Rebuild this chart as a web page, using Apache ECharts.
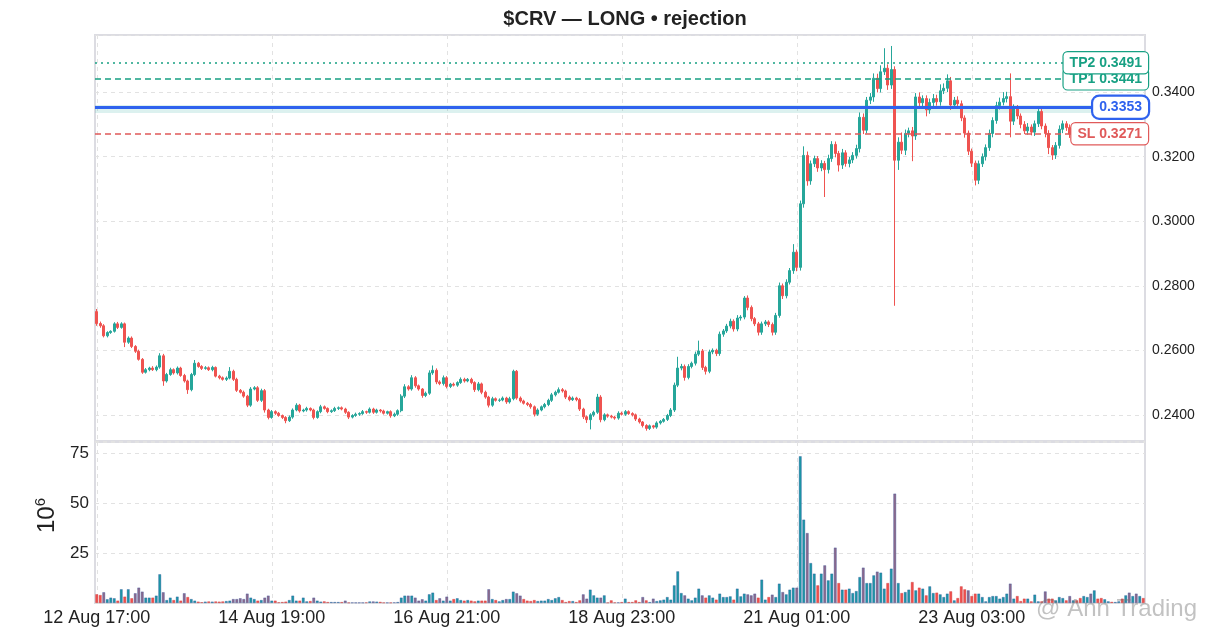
<!DOCTYPE html>
<html><head><meta charset="utf-8">
<script src="https://cdn.jsdelivr.net/npm/echarts@6/dist/echarts.min.js"></script>
<style>html,body{margin:0;padding:0;background:#fff}#c{width:1205px;height:638px}</style>
</head><body><div id="c"></div><script>
// ---- data ----
const tickLabels = ['12 Aug 17:00','14 Aug 19:00','16 Aug 21:00','18 Aug 23:00','21 Aug 01:00','23 Aug 03:00'];
const firstOpen = 0.2720;
const closes = [
0.2683,0.2676,0.2645,0.2655,0.2659,0.2682,0.2671,0.2682,0.2625,0.2638,
0.2612,0.2597,0.2572,0.2532,0.2540,0.2545,0.2540,0.2548,0.2583,0.2505,
0.2525,0.2540,0.2530,0.2545,0.2522,0.2505,0.2478,0.2525,0.2560,0.2550,
0.2544,0.2546,0.2540,0.2547,0.2520,0.2515,0.2510,0.2514,0.2535,0.2510,
0.2476,0.2470,0.2458,0.2430,0.2480,0.2484,0.2445,0.2475,0.2415,0.2392,
0.2410,0.2405,0.2398,0.2392,0.2382,0.2393,0.2415,0.2430,0.2412,0.2415,
0.2420,0.2415,0.2392,0.2410,0.2425,0.2420,0.2410,0.2413,0.2420,0.2422,
0.2418,0.2408,0.2393,0.2398,0.2402,0.2404,0.2410,0.2408,0.2418,0.2408,
0.2415,0.2412,0.2405,0.2410,0.2397,0.2402,0.2413,0.2458,0.2487,0.2480,
0.2515,0.2490,0.2480,0.2460,0.2467,0.2530,0.2538,0.2502,0.2497,0.2515,
0.2488,0.2495,0.2492,0.2500,0.2510,0.2505,0.2510,0.2500,0.2478,0.2496,
0.2470,0.2455,0.2430,0.2450,0.2445,0.2446,0.2452,0.2440,0.2450,0.2535,
0.2452,0.2443,0.2436,0.2432,0.2425,0.2402,0.2415,0.2425,0.2432,0.2445,
0.2462,0.2470,0.2478,0.2474,0.2455,0.2447,0.2452,0.2447,0.2418,0.2394,
0.2385,0.2400,0.2408,0.2455,0.2385,0.2400,0.2396,0.2393,0.2390,0.2405,
0.2402,0.2410,0.2404,0.2400,0.2387,0.2378,0.2367,0.2358,0.2366,0.2362,
0.2375,0.2380,0.2386,0.2398,0.2415,0.2492,0.2545,0.2550,0.2516,0.2550,
0.2560,0.2588,0.2598,0.2547,0.2535,0.2595,0.2600,0.2590,0.2650,0.2660,
0.2675,0.2690,0.2666,0.2700,0.2703,0.2762,0.2733,0.2698,0.2682,0.2656,
0.2682,0.2688,0.2680,0.2656,0.2708,0.2800,0.2769,0.2811,0.2847,0.2904,
0.2857,0.3054,0.3204,0.3125,0.3178,0.3194,0.3165,0.3179,0.3160,0.3194,
0.3238,0.3210,0.3174,0.3212,0.3179,0.3190,0.3204,0.3225,0.3322,0.3282,
0.3375,0.3385,0.3443,0.3411,0.3463,0.3474,0.3422,0.3470,0.3189,0.3245,
0.3220,0.3272,0.3280,0.3264,0.3385,0.3367,0.3380,0.3345,0.3368,0.3380,
0.3370,0.3404,0.3412,0.3435,0.3360,0.3375,0.3364,0.3320,0.3273,0.3217,
0.3180,0.3127,0.3178,0.3200,0.3228,0.3272,0.3312,0.3358,0.3369,0.3380,
0.3386,0.3310,0.3350,0.3326,0.3300,0.3280,0.3292,0.3276,0.3302,0.3340,
0.3295,0.3272,0.3228,0.3205,0.3235,0.3285,0.3302,0.3290,0.3270,0.3285,
0.3265,0.3255,0.3275,0.3295,0.3280,0.3290,0.3270,0.3262,0.3272,0.3280,
0.3268,0.3276,0.3285,0.3275,0.3282,0.3270,0.3278,0.3268,0.3280,0.3272
];
// upper / lower wick lengths, in units of 0.0001
const wickUp = [
8,6,5,4,3,5,6,5,4,5, 5,4,5,4,5,4,6,5,8,6, 5,6,4,5,4,5,4,5,10,4, 4,5,4,5,3,4,4,5,13,5,
5,4,5,4,6,5,5,6,5,4, 5,4,4,3,4,5,5,6,4,4, 5,3,4,4,6,4,3,4,5,4, 4,4,3,4,5,4,5,3,5,4,
4,3,4,3,4,5,4,6,8,5, 8,5,4,3,5,8,15,6,5,7, 5,4,5,4,6,5,4,5,4,6, 4,5,4,6,4,5,5,4,6,5,
4,5,4,4,5,4,5,4,5,5, 6,5,7,5,4,5,5,4,5,4, 4,5,5,10,6,5,4,4,4,6, 5,5,4,4,4,4,3,4,4,3,
5,4,4,5,6,8,35,8,6,7, 5,8,32,6,5,7,6,5,8,6, 7,8,6,9,6,6,8,6,5,6, 7,6,5,6,8,10,7,9,8,25,
8,10,28,12,10,9,8,10,8,12, 10,9,8,12,8,9,10,12,15,12, 10,12,15,14,20,62,12,73,10,15, 30,12,10,12,12,14,10,10,12,14,
12,20,15,20,12,10,12,10,8,8, 8,8,10,10,10,12,10,12,14,20, 15,72,12,10,8,10,12,8,10,12, 10,8,10,8,10,12,10,8,10,8,
10,8,10,12,8,10,8,10,8,8, 10,8,10,8,8,10,8,8,10,8
];
const wickDown = [
7,6,5,5,4,4,5,4,15,5, 5,5,4,5,4,5,4,5,5,15, 5,4,5,5,4,5,13,5,5,4, 5,4,4,5,4,5,4,5,4,5,
5,4,5,6,5,4,5,5,8,6, 4,5,4,5,8,4,5,4,5,4, 5,4,6,4,5,4,5,4,4,5, 4,5,6,4,4,5,4,5,4,5,
4,5,4,4,6,4,5,5,6,5, 5,6,5,7,5,5,6,7,5,6, 6,5,4,5,4,5,4,5,7,5, 6,5,7,5,4,5,4,6,5,5,
5,5,4,5,6,7,5,4,5,5, 5,5,4,5,6,5,4,5,6,7, 10,30,6,5,8,5,5,4,5,5, 4,5,4,5,6,5,6,7,5,5,
5,5,4,5,5,6,6,7,10,6, 6,7,6,8,10,6,7,8,7,8, 6,7,8,7,8,7,9,8,7,10, 8,7,8,10,8,7,10,8,7,10,
12,10,12,15,12,10,12,10,85,12, 10,12,20,12,10,12,10,10,12,12, 10,12,15,12,12,10,15,12,451,30, 12,15,12,78,12,15,12,20,12,14,
12,12,10,12,15,12,12,10,14,12, 12,16,12,10,12,10,12,10,12,10, 12,50,12,10,12,10,12,10,12,10, 10,12,20,15,12,10,12,10,12,10,
12,10,12,10,12,10,12,10,12,10, 10,12,10,12,10,12,10,12,10,12
];
// volume, in millions
const volumes = [
4.4,4.0,5.4,1.9,2.7,2.4,1.2,6.9,3.2,6.9, 2.4,4.9,7.7,5.7,2.7,2.7,2.7,3.7,14.4,5.4,
1.5,2.7,1.5,3.2,1.2,4.9,3.0,2.0,1.2,0.7, 0.4,0.7,0.8,0.7,0.8,0.7,0.8,1.0,1.2,2.0,
2.0,2.4,2.0,4.7,2.7,2.0,1.2,1.5,2.7,3.7, 1.2,1.2,0.35,0.5,0.7,1.5,3.7,1.2,1.2,2.7,
0.85,1.0,2.7,1.2,0.7,0.85,0.5,0.5,0.5,0.5, 0.5,1.2,0.2,0.2,0.2,0.2,0.2,0.3,0.8,0.8,
0.7,0.6,0.2,0.2,0.2,0.3,0.5,2.7,3.7,3.7, 3.7,2.7,1.2,1.9,1.2,4.4,5.2,1.5,2.4,1.2,
3.2,1.2,2.0,2.4,1.5,1.2,1.5,1.2,0.85,1.2, 1.2,1.2,6.9,2.0,1.5,0.85,1.5,2.0,2.0,5.7,
4.9,3.7,2.0,1.2,1.0,1.5,1.0,1.2,1.2,2.0, 1.5,2.4,3.0,1.5,0.5,1.0,1.0,0.5,1.35,4.35,
2.2,6.7,3.85,2.7,2.7,3.85,0.2,1.35,0.3,0.3, 0.5,2.2,0.5,0.5,1.35,0.5,3.0,1.35,0.5,2.2,
1.0,1.35,1.7,3.0,1.7,8.85,15.85,5.0,3.85,2.2, 1.35,2.7,7.2,3.85,2.7,3.85,2.7,1.7,4.7,3.0,
3.0,3.35,1.7,7.2,3.35,4.7,4.35,3.85,4.7,2.7, 11.7,1.7,3.0,4.2,3.0,9.7,5.5,4.35,6.7,7.7,
7.7,73.4,41.7,35.0,20.0,14.7,8.85,14.7,18.85,11.35, 14.7,27.7,10.0,6.7,6.7,7.2,5.0,6.0,13.0,17.7,
10.0,10.0,13.85,15.7,15.2,7.2,10.0,17.2,54.7,10.0, 5.0,5.5,6.7,10.5,6.35,7.7,7.2,3.85,8.35,5.0,
5.2,4.35,3.0,4.7,5.85,1.35,2.5,8.35,6.85,6.35, 3.5,4.7,4.7,3.0,0.85,3.0,3.5,3.5,2.2,3.0,
4.7,9.7,2.2,3.5,1.0,2.2,2.2,0.85,4.2,0.85, 0.85,5.8,2.2,2.2,1.35,3.0,2.5,1.35,3.5,1.35,
1.35,2.5,3.5,3.0,4.7,6.35,2.2,2.5,1.9,0.85, 0.6,0.5,0.85,2.2,3.85,5.2,3.5,4.7,3.5,2.5
];
const levelTP2 = 0.3491;
const levelTP1 = 0.3441;
const levelEntry = 0.3353;
const levelSL = 0.3271;
const entryZone = [0.3335, 0.3360];
const priceMin = 0.2319, priceMax = 0.3577;
const volMax = 80.5;

// ---- build ----
const MONTHS = ['Jan','Feb','Mar','Apr','May','Jun','Jul','Aug','Sep','Oct','Nov','Dec'];
const t0 = Date.UTC(2025, 7, 12, 17);
const categories = closes.map((_, i) => {
  const d = new Date(t0 + i * 3600000);
  return d.getUTCDate() + ' ' + MONTHS[d.getUTCMonth()] + ' ' + String(d.getUTCHours()).padStart(2, '0') + ':00';
});
const candleData = closes.map((c, i) => {
  const o = i === 0 ? firstOpen : closes[i - 1];
  const hi = Math.max(o, c) + wickUp[i] * 1e-4;
  const lo = Math.min(o, c) - wickDown[i] * 1e-4;
  return [o, c, +lo.toFixed(4), +hi.toFixed(4)];
});
const UP = '#26a69a', DOWN = '#ef5350', VUP = '#1c97a6', VDOWN = '#f0504e', VPURP = '#8c6a8c';
const volData = volumes.map((v, i) => {
  const up = candleData[i][1] >= candleData[i][0];
  let s = 0, n = 0;
  for (let k = Math.max(0, i - 20); k < i; k++) { s += volumes[k]; n++; }
  const avg = n ? s / n : v;
  const col = up ? VUP : (v > avg ? VPURP : VDOWN);
  return { value: v, itemStyle: { color: col, borderColor: up || v > avg ? 'rgba(40,70,150,0.55)' : 'rgba(200,50,50,0.6)', borderWidth: 0.6 } };
});

const FONT = '"Liberation Sans", Arial, sans-serif';
const gridLine = { show: true, lineStyle: { color: '#e2e2e2', type: [4, 4], width: 1 } };
const lbl = (txt, col, bw) => ({
  show: true, formatter: txt, position: 'insideEnd', distance: -3,
  color: col, fontSize: 14, fontWeight: 'bold', fontFamily: FONT,
  backgroundColor: '#ffffff', borderColor: col, borderWidth: bw, borderRadius: 4,
  padding: [4, 6, 3, 6]
});

const chart = echarts.init(document.getElementById('c'), null, { renderer: 'canvas' });
chart.setOption({
  animation: false,
  backgroundColor: '#ffffff',
  textStyle: { fontFamily: FONT },
  title: {
    text: '$CRV — LONG • rejection', left: 620, top: 4, textAlign: 'center',
    textStyle: { fontSize: 20, fontWeight: 'bold', color: '#222', fontFamily: FONT }
  },
  grid: [
    { left: 95, right: 60, top: 35, height: 406, show: true, borderColor: '#dcdce2', borderWidth: 2, backgroundColor: 'transparent' },
    { left: 95, right: 60, top: 442, height: 161, show: true, borderColor: '#dcdce2', borderWidth: 2, backgroundColor: 'transparent' }
  ],
  xAxis: [
    { type: 'category', gridIndex: 0, data: categories, boundaryGap: true,
      axisLine: { show: false }, axisTick: { show: false, alignWithLabel: true }, axisLabel: { show: false, interval: 49 },
      splitLine: Object.assign({ interval: 49, alignWithLabel: true }, gridLine) },
    { type: 'category', gridIndex: 1, data: categories, boundaryGap: true,
      axisLine: { show: false }, axisTick: { show: false, alignWithLabel: true },
      axisLabel: { show: true, interval: 49, fontSize: 18, color: '#222', margin: 6, fontFamily: FONT },
      splitLine: Object.assign({ interval: 49, alignWithLabel: true }, gridLine) }
  ],
  yAxis: [
    { type: 'value', gridIndex: 0, position: 'right', min: priceMin, max: priceMax, splitNumber: 6, scale: true,
      axisLine: { show: false }, axisTick: { show: false },
      axisLabel: { fontSize: 14, color: '#222', margin: 7, showMinLabel: false, showMaxLabel: false,
        formatter: v => v.toFixed(4), fontFamily: FONT },
      splitLine: gridLine },
    { type: 'value', gridIndex: 1, position: 'left', min: 0, max: volMax, interval: 25,
      axisLine: { show: false }, axisTick: { show: false },
      axisLabel: { fontSize: 17, color: '#222', margin: 6, showMinLabel: false, showMaxLabel: false, fontFamily: FONT },
      splitLine: gridLine,
      name: '10{s|6}', nameLocation: 'middle', nameRotate: 90, nameGap: 25,
      nameTextStyle: { fontSize: 24, color: '#222', fontFamily: FONT, padding: [0, 0, 0, 14],
        rich: { s: { fontSize: 15, color: '#222', verticalAlign: 'top', padding: [0, 0, 12, 0], fontFamily: FONT } } } }
  ],
  series: [
    { type: 'candlestick', name: 'CRV', xAxisIndex: 0, yAxisIndex: 0, data: candleData, barWidth: 2.6,
      itemStyle: { color: UP, color0: DOWN, borderColor: UP, borderColor0: DOWN, borderWidth: 1 },
      markArea: { silent: true, itemStyle: { color: 'rgba(38,166,154,0.16)' },
        data: [[{ yAxis: entryZone[0] }, { yAxis: entryZone[1] }]] },
      markLine: { silent: true, symbol: ['none', 'none'], animation: false, precision: 4,
        data: [
          { yAxis: levelSL, lineStyle: { color: '#e05a5a', type: [6, 4], width: 1.6 }, label: lbl('SL ' + levelSL.toFixed(4), '#e05a5a', 1.2) },
          { yAxis: levelTP1, lineStyle: { color: '#17a083', type: [6, 4], width: 1.6 }, label: lbl('TP1 ' + levelTP1.toFixed(4), '#17a083', 1.2) },
          { yAxis: levelTP2, lineStyle: { color: '#17a083', type: [2, 4], width: 1.6 }, label: lbl('TP2 ' + levelTP2.toFixed(4), '#17a083', 1.2) },
          { yAxis: levelEntry, lineStyle: { color: '#2f62ee', type: 'solid', width: 3 }, label: Object.assign(lbl(levelEntry.toFixed(4), '#2f62ee', 2.2), { padding: [4, 6, 3, 6], borderRadius: 6 }) }
        ] } },
    { type: 'bar', name: 'Volume', xAxisIndex: 1, yAxisIndex: 1, data: volData, barWidth: '82%' }
  ],
  graphic: [
    { type: 'text', right: 8, top: 597, z: 100, silent: true,
      style: { text: '@ Ann Trading', fontSize: 24, fill: 'rgba(120,120,120,0.45)', fontFamily: FONT } }
  ]
});
</script></body></html>
